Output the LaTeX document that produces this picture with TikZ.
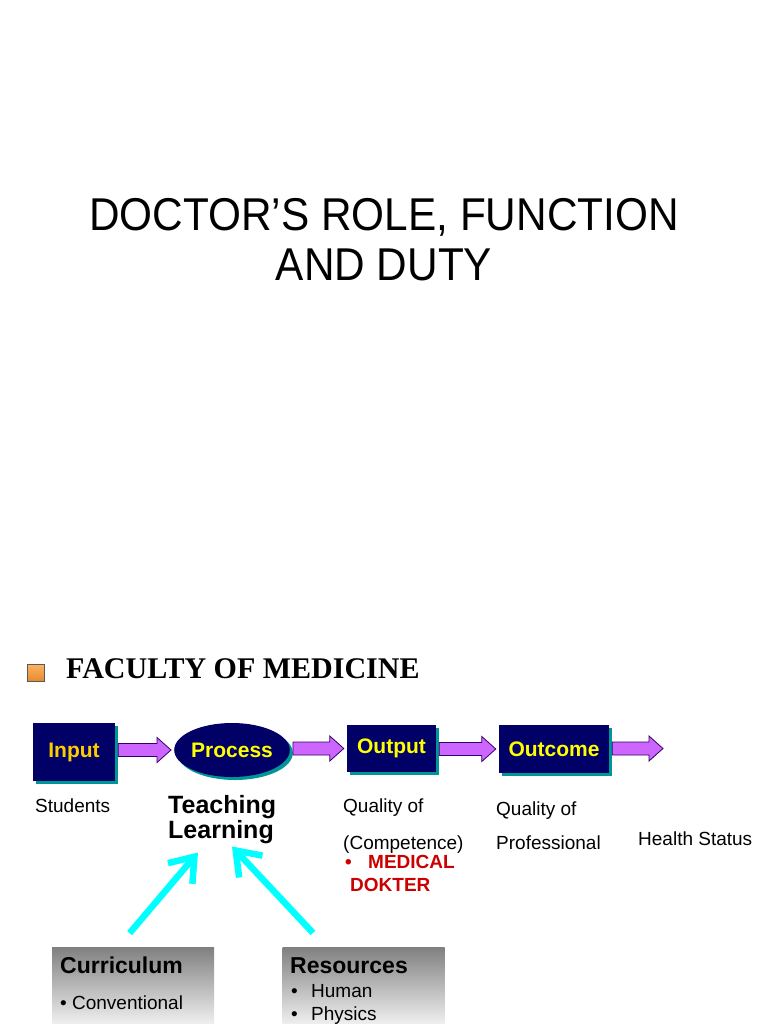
\documentclass[tikz,border=0pt]{standalone}
\usepackage{fontspec}
\setmainfont{Liberation Sans}
\newfontfamily\titlefont[FakeStretch=0.92]{Liberation Sans}
\newfontfamily\facultyfont{Liberation Serif}
\usetikzlibrary{positioning,arrows.meta,shapes.geometric,shadows,calc}
\definecolor{flownavy}{RGB}{0,0,102}
\definecolor{flowshadow}{RGB}{0,150,150}
\definecolor{flowpurple}{RGB}{204,102,255}
\definecolor{flowedge}{RGB}{51,0,102}
\definecolor{labelgold}{RGB}{255,204,0}
\definecolor{labelyellow}{RGB}{255,255,0}
\definecolor{medred}{RGB}{204,0,0}
\definecolor{hintcyan}{RGB}{0,255,255}
\definecolor{bulletorange}{RGB}{255,153,51}

\newcommand{\flowarrow}[2]{%
  \draw[flowarrow] let \p1=(#1), \p2=(#2) in
    (\x1+3pt,\y2+6.5pt) -- (\x2-17pt,\y2+6.5pt) -- (\x2-17pt,\y2+12.5pt) -- (\x2-3pt,\y2)
    -- (\x2-17pt,\y2-12.5pt) -- (\x2-17pt,\y2-6.5pt) -- (\x1+3pt,\y2-6.5pt) -- cycle;}

\begin{document}
\begin{tikzpicture}[x=1pt,y=-1pt,
  every node/.style={inner sep=0pt,font=\fontsize{19}{22}\selectfont},
  flowbox/.style={fill=flownavy,text=labelyellow,font=\fontsize{21}{24}\selectfont\bfseries,
    drop shadow={shadow xshift=3pt,shadow yshift=-3pt,fill=flowshadow,opacity=1}},
  flowarrow/.style={fill=flowpurple,draw=flowedge,line width=0.8pt},
  hintarrow/.style={draw=hintcyan,line width=6.5pt,-{Straight Barb[length=22pt,width=32pt]}},
  infobox/.style={top color=gray,bottom color=gray!12,minimum width=162pt,minimum height=77pt},
  boxhead/.style={anchor=base west,font=\fontsize{23}{26}\selectfont\bfseries},
  lbl/.style={anchor=base west}]
  \path[use as bounding box,fill=white] (0,0) rectangle (768,1024);

  \node[anchor=base,font=\titlefont\fontsize{46}{50}\selectfont] (t1) at (384,230) {DOCTOR’S ROLE, FUNCTION};
  \node[anchor=base,font=\titlefont\fontsize{46}{50}\selectfont] (t2) at (384,280) {AND DUTY};

  \node[draw=gray!70!black,line width=0.8pt,top color=bulletorange!75!white,bottom color=bulletorange!90!black,minimum size=17pt] (sq) at (36,672.5) {};
  \node[lbl,font=\facultyfont\bfseries\fontsize{30}{32}\selectfont] (fac) at (66,678) {FACULTY OF MEDICINE};

  \node[flowbox,minimum width=82pt,minimum height=58pt,text=labelgold] (in) at (74,752) {Input};
  \node[flowbox,ellipse,minimum width=110pt,minimum height=54pt] (proc) at (232,750) {Process};
  \node[flowbox,minimum width=89pt,minimum height=47pt] (out) at (391.5,748.5) {Output};
  \node[flowbox,minimum width=110pt,minimum height=48pt] (oc) at (554,749) {Outcome};
  \coordinate (end) at (666,748.5);
  \flowarrow{in.east}{proc.west}
  \flowarrow{proc.east}{out.west}
  \flowarrow{out.east}{oc.west}
  \flowarrow{oc.east}{end}

  \node[lbl] (stud) at (35,812) {Students};
  \node[lbl,font=\fontsize{25}{25}\selectfont\bfseries] (teach) at (168,813) {Teaching};
  \node[lbl,font=\fontsize{25}{25}\selectfont\bfseries] (learn) at (168,838) {Learning};
  \node[lbl] (qual) at (343,812) {Quality of};
  \node[lbl] (comp) at (343,849) {(Competence)};
  \node[lbl,text=medred,font=\fontsize{19}{22}\selectfont\bfseries] (med) at (345,868) {\makebox[23pt][l]{•}MEDICAL};
  \node[lbl,text=medred,font=\fontsize{19}{22}\selectfont\bfseries] (dok) at (350,891) {DOKTER};
  \node[lbl] (qualp) at (496,815) {Quality of};
  \node[lbl] (prof) at (496,849) {Professional};
  \node[lbl] (health) at (638,845) {Health Status};

  \node[infobox] (cur) at (133,985.5) {};
  \node[infobox] (res) at (363.5,985.5) {};
  \node[boxhead] (curh) at (60,973) {Curriculum};
  \node[lbl] (conv) at (60,1009) {• Conventional};
  \node[boxhead] (resh) at (290,973) {Resources};
  \node[lbl] (hum) at (291,997) {\makebox[20pt][l]{•}Human};
  \node[lbl] (phys) at (291,1020) {\makebox[20pt][l]{•}Physics};

  \draw[hintarrow,shorten <=18pt] ([xshift=-15pt]cur.north) -- ([xshift=-23pt,yshift=-9pt]learn.south);
  \draw[hintarrow,shorten <=19pt] ([xshift=-37.5pt]res.north) -- ([xshift=11pt,yshift=-3pt]learn.south);
\end{tikzpicture}
\end{document}
